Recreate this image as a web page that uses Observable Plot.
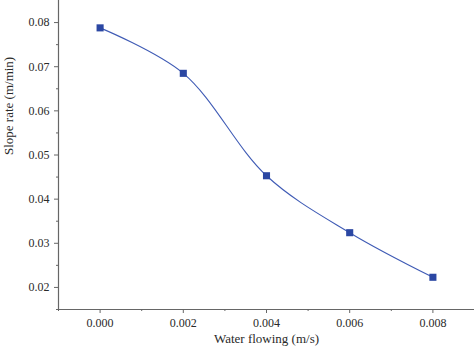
<!DOCTYPE html>
<html>
<head>
<meta charset="utf-8">
<script src="https://cdn.jsdelivr.net/npm/d3@7"></script>
<script src="https://cdn.jsdelivr.net/npm/@observablehq/plot@0.6"></script>
<style>
  html, body { margin: 0; padding: 0; background: #fff; }
  #chart svg { display: block; }
</style>
</head>
<body>
<div id="chart"></div>
<script>
const waterFlowing = [0.000, 0.002, 0.004, 0.006, 0.008];
const slopeRate = [0.0788, 0.0685, 0.0453, 0.0324, 0.0223];
const xTicks = [0.000, 0.002, 0.004, 0.006, 0.008];
const xMinorTicks = [-0.001, 0.001, 0.003, 0.005, 0.007];
const yTicks = [0.02, 0.03, 0.04, 0.05, 0.06, 0.07, 0.08];
const yMinorTicks = [0.015, 0.025, 0.035, 0.045, 0.055, 0.065, 0.075];
const xLabel = "Water flowing (m/s)";
const yLabel = "Slope rate (m/min)";

const data = waterFlowing.map((x, i) => ({x, y: slopeRate[i]}));
const axisColor = "#666";
const textColor = "#2a2a2a";

const chart = Plot.plot({
  width: 474,
  height: 353,
  marginLeft: 58,
  marginRight: 0,
  marginTop: 0,
  marginBottom: 44,
  style: {fontFamily: "'Liberation Serif', 'DejaVu Serif', serif", fontSize: "12px", color: textColor, background: "#fff"},
  x: {domain: [-0.001, 0.009]},
  y: {domain: [0.015, 0.085]},
  marks: [
    Plot.ruleX([-0.001], {stroke: axisColor, strokeWidth: 1.2}),
    Plot.ruleY([0.015], {stroke: axisColor, strokeWidth: 1.2}),
    Plot.axisX(xTicks, {tickSize: 4, tickPadding: 5, tickFormat: d3.format(".3f"), stroke: axisColor, fill: textColor, fontSize: 12, label: null}),
    Plot.axisX(xMinorTicks, {tickSize: 2, tickFormat: () => "", stroke: axisColor, label: null}),
    Plot.axisY(yTicks, {tickSize: 4, tickPadding: 5, tickFormat: d3.format(".2f"), stroke: axisColor, fill: textColor, fontSize: 12, label: null}),
    Plot.axisY(yMinorTicks, {tickSize: 2, tickFormat: () => "", stroke: axisColor, label: null}),
    Plot.text([xLabel], {text: d => d, frameAnchor: "bottom", dy: 33, fontSize: 13, fill: textColor}),
    Plot.text([yLabel], {text: d => d, frameAnchor: "left", rotate: -90, dx: -50, fontSize: 13, fill: textColor}),
    Plot.line(data, {x: "x", y: "y", curve: "catmull-rom", stroke: "#3f5bb5", strokeWidth: 1.1}),
    Plot.dot(data, {x: "x", y: "y", symbol: "square", r: 4, fill: "#2b47a3", stroke: "none"})
  ]
});
document.getElementById("chart").append(chart);
</script>
</body>
</html>
